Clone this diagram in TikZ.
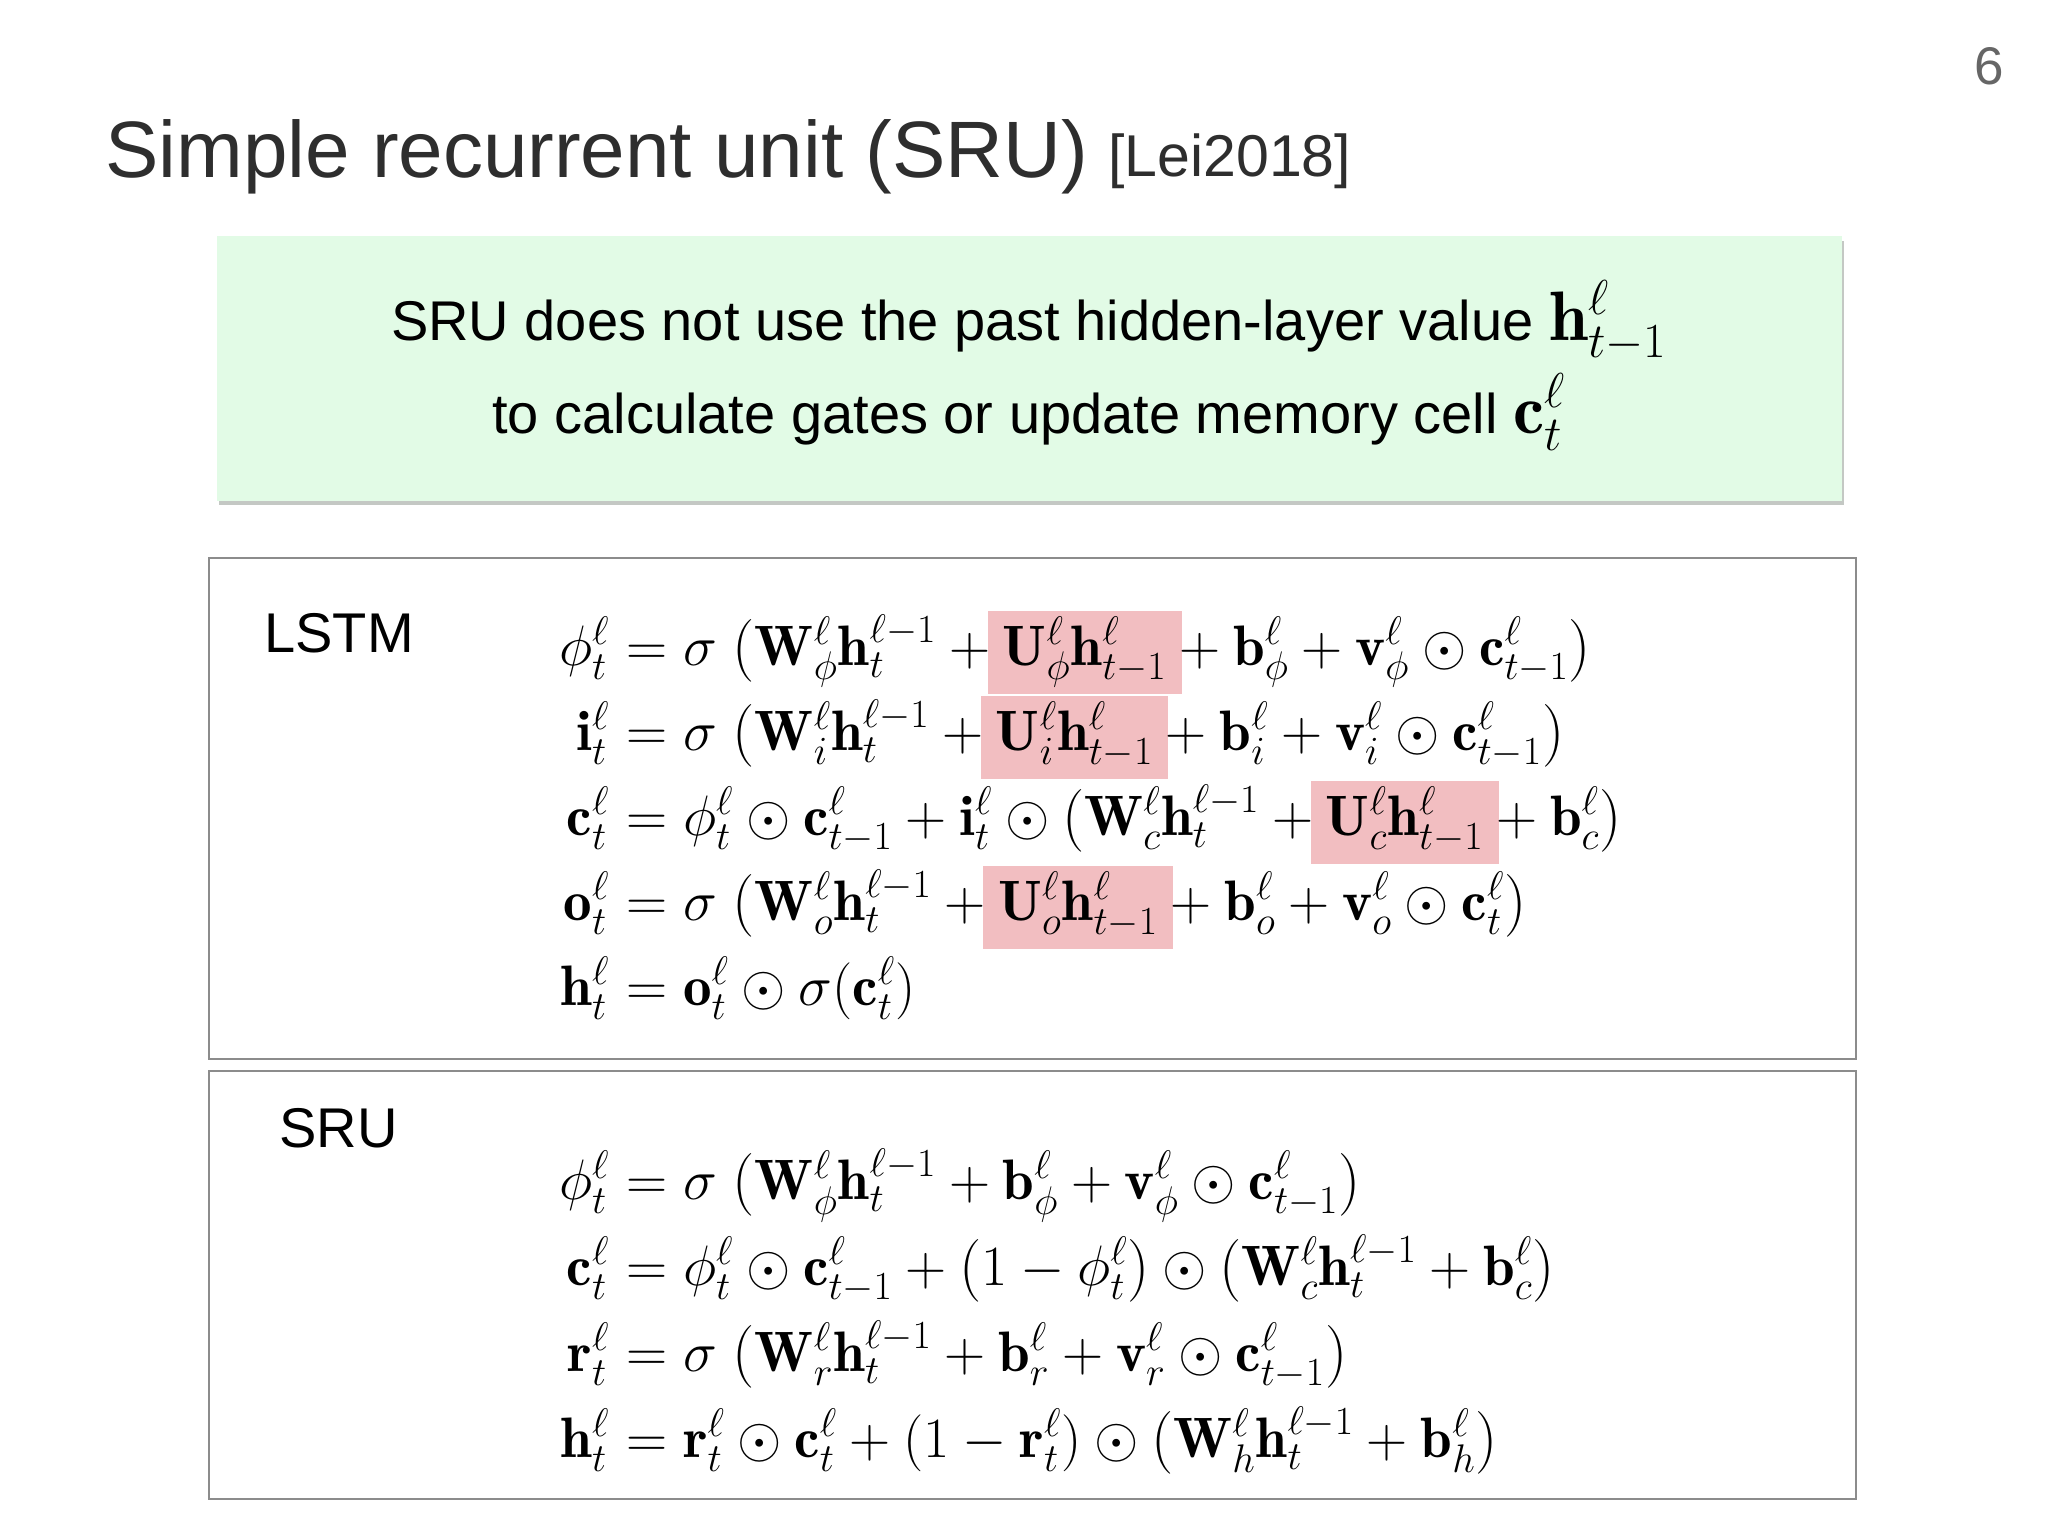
\RequirePackage{fix-cm}
\documentclass[tikz,border=0pt]{standalone}
\usepackage{amsmath}
\usepackage{graphicx}
\usepackage{fontspec}
\newfontfamily\hsans{Liberation Sans}
\definecolor{titlegray}{HTML}{2E2E2E}
\definecolor{pagegray}{HTML}{666666}
\definecolor{notegreen}{HTML}{E2FBE6}
\definecolor{shadowgray}{HTML}{C4C8C4}
\definecolor{framegray}{HTML}{8C8C8C}
\definecolor{hlpink}{HTML}{F2BEC1}
\newcommand\vb[1]{\mathbf{#1}}
\newcommand\hlterm[1]{\kern-7.5pt{\setlength{\fboxsep}{0pt}\colorbox{hlpink}{$\rule[-14.5pt]{0pt}{41.5pt}\kern7.5pt #1\kern7.5pt$}}\kern-7.5pt}
\newcommand\lpar{\mathopen{\vcenter{\hbox{\scalebox{1.1}{$($}}}}}
\newcommand\rpar{\mathclose{\vcenter{\hbox{\scalebox{1.1}{$)$}}}}}
\tikzset{
  eqfont/.style={font=\fontsize{28.5}{32}\selectfont},
  lhs/.style={anchor=base east, inner sep=0pt, eqfont},
  rhs/.style={anchor=base west, inner sep=0pt, eqfont},
  labeltext/.style={anchor=base west, inner sep=0pt, font=\hsans\fontsize{28}{32}\selectfont},
  notetext/.style={anchor=base, inner sep=0pt, font=\hsans\fontsize{28}{32}\selectfont},
  framebox/.style={draw=framegray, line width=1pt},
}
\newcommand\notemath[1]{{\fontsize{35}{40}\selectfont$#1$}}
\begin{document}
\begin{tikzpicture}[x=0.5pt,y=-0.5pt]
\useasboundingbox[fill=white] (0,0) rectangle (2048,1536);

% page number and title
\node[anchor=base east, inner sep=0pt, text=pagegray, font=\hsans\fontsize{26.5}{30}\selectfont] (page) at (2004,85) {6};
\node[anchor=base west, inner sep=0pt, text=titlegray, font=\hsans\fontsize{40}{46}\selectfont] (title) at (105,177) {Simple recurrent unit (SRU)};
\node[anchor=base west, inner sep=0pt, text=titlegray, font=\hsans\fontsize{29.5}{34}\selectfont] (cite) at (1108,176) {[Lei2018]};

% note box
\fill[shadowgray] (219,241) rectangle (1844,505);
\node[draw=none, fill=notegreen, minimum width=812.5pt, minimum height=132.5pt, inner sep=0pt, anchor=north west] (note) at (217,236) {};
\node[notetext] (note1) at (1029,340) {SRU does not use the past hidden-layer value \notemath{\vb h_{t-1}^{\ell}}};
\node[notetext] (note2) at (1029,433) {to calculate gates or update memory cell \notemath{\vb c_{t}^{\ell}}};

% frames
\node[framebox, minimum width=823.5pt, minimum height=250.5pt, inner sep=0pt, anchor=north west] (lstmbox) at (208,557) {};
\node[framebox, minimum width=823.5pt, minimum height=214pt, inner sep=0pt, anchor=north west] (srubox) at (208,1070) {};

\node[labeltext] (lstmlabel) at (264,652) {LSTM};
\node[labeltext] (srulabel) at (279,1147) {SRU};

% LSTM equations
\node[lhs] (l1a) at (610,665) {$\phi_t^\ell$};
\node[rhs] (l1b) at (610,665) {${}= \sigma\;\lpar\vb W_\phi^\ell \vb h_t^{\ell-1} + \hlterm{\vb U_\phi^\ell \vb h_{t-1}^\ell} + \vb b_\phi^\ell + \vb v_\phi^\ell \odot \vb c_{t-1}^\ell\rpar$};
\node[lhs] (l2a) at (610,750) {$\vb i_t^\ell$};
\node[rhs] (l2b) at (610,750) {${}= \sigma\;\lpar\vb W_i^\ell \vb h_t^{\ell-1} + \hlterm{\vb U_i^\ell \vb h_{t-1}^\ell} + \vb b_i^\ell + \vb v_i^\ell \odot \vb c_{t-1}^\ell\rpar$};
\node[lhs] (l3a) at (610,835) {$\vb c_t^\ell$};
\node[rhs] (l3b) at (610,835) {${}= \phi_t^\ell \odot \vb c_{t-1}^\ell + \vb i_t^\ell \odot \lpar\vb W_c^\ell \vb h_t^{\ell-1} + \hlterm{\vb U_c^\ell \vb h_{t-1}^\ell} + \vb b_c^\ell\rpar$};
\node[lhs] (l4a) at (610,920) {$\vb o_t^\ell$};
\node[rhs] (l4b) at (610,920) {${}= \sigma\;\lpar\vb W_o^\ell \vb h_t^{\ell-1} + \hlterm{\vb U_o^\ell \vb h_{t-1}^\ell} + \vb b_o^\ell + \vb v_o^\ell \odot \vb c_t^\ell\rpar$};
\node[lhs] (l5a) at (610,1005) {$\vb h_t^\ell$};
\node[rhs] (l5b) at (610,1005) {${}= \vb o_t^\ell \odot \sigma(\vb c_t^\ell)$};

% SRU equations
\node[lhs] (s1a) at (610,1199) {$\phi_t^\ell$};
\node[rhs] (s1b) at (610,1199) {${}= \sigma\;\lpar\vb W_\phi^\ell \vb h_t^{\ell-1} + \vb b_\phi^\ell + \vb v_\phi^\ell \odot \vb c_{t-1}^\ell\rpar$};
\node[lhs] (s2a) at (610,1285) {$\vb c_t^\ell$};
\node[rhs] (s2b) at (610,1285) {${}= \phi_t^\ell \odot \vb c_{t-1}^\ell + \lpar 1-\phi_t^\ell\rpar \odot \lpar\vb W_c^\ell \vb h_t^{\ell-1} + \vb b_c^\ell\rpar$};
\node[lhs] (s3a) at (610,1371) {$\vb r_t^\ell$};
\node[rhs] (s3b) at (610,1371) {${}= \sigma\;\lpar\vb W_r^\ell \vb h_t^{\ell-1} + \vb b_r^\ell + \vb v_r^\ell \odot \vb c_{t-1}^\ell\rpar$};
\node[lhs] (s4a) at (610,1457) {$\vb h_t^\ell$};
\node[rhs] (s4b) at (610,1457) {${}= \vb r_t^\ell \odot \vb c_t^\ell + (1-\vb r_t^\ell) \odot \lpar\vb W_h^\ell \vb h_t^{\ell-1} + \vb b_h^\ell\rpar$};
\end{tikzpicture}
\end{document}
